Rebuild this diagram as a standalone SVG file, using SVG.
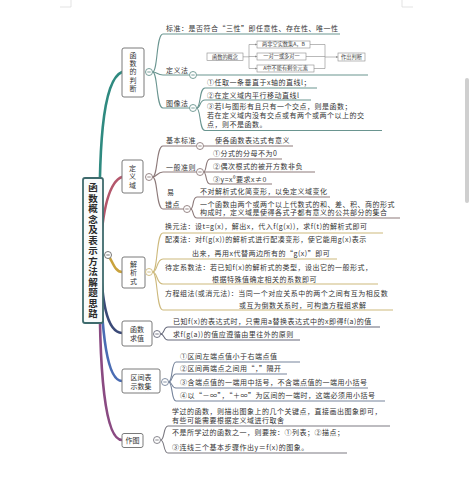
<svg xmlns="http://www.w3.org/2000/svg" width="474" height="503" viewBox="0 0 474 503">
<style>
.t{font-family:"Noto Sans CJK SC","Noto Sans",sans-serif;font-size:7px;letter-spacing:0.5px;fill:#333}
.n{font-family:"Noto Sans CJK SC",sans-serif;font-size:7px;fill:#333;text-anchor:middle}
.v{font-family:"Noto Sans CJK SC",sans-serif;font-size:7px;fill:#333;writing-mode:tb}
.r{font-family:"Noto Sans CJK SC",sans-serif;font-size:9.5px;letter-spacing:1px;font-weight:bold;fill:#2a2a2a;writing-mode:tb}
.f{font-family:"Noto Sans CJK SC",sans-serif;font-size:5.2px;fill:#444;text-anchor:middle}
.box{fill:#fff;stroke:#7a7a7a;stroke-width:1}
.fb{fill:#fff;stroke:#8a8a8a;stroke-width:0.6}
.c{fill:#fff;stroke-width:0.9}
.m{stroke-width:0.9}
.ln{fill:none;stroke-width:1.1}
.fl{fill:none;stroke:#8a8a8a;stroke-width:0.6}
.br{fill:none;stroke-width:2.6;stroke-linecap:round}
.s1{stroke:#6a9590}.s2{stroke:#8d7a7a}.s3{stroke:#cdb97c}.s4{stroke:#66697a}.s5{stroke:#76849b}.s6{stroke:#7c7a82}
</style>
<defs>
<marker id="ar" viewBox="0 0 6 6" refX="6" refY="3" markerWidth="4" markerHeight="4" orient="auto"><path d="M0 0L6 3L0 6Z" fill="#8a8a8a"/></marker>
</defs>
<rect width="474" height="503" fill="#fff"/>
<path d="M60 7H71V0M402 0V7H413" fill="none" stroke="#dcdcdc" stroke-width="0.8"/>
<rect x="465" y="78" width="4" height="125" rx="2" fill="#cfcfcf"/>

<g id="connectors">
<path class="br" stroke="#2f8a80" d="M100 255C98 150 102 80 122 72"/>
<path class="br" stroke="#b4576c" d="M100 255C102 215 108 182 122 177"/>
<path class="br" stroke="#c9a23c" d="M108 255C113 262 115 272 122 272"/>
<path class="br" stroke="#3b4a78" d="M100 255C102 300 106 332 122 333"/>
<path class="br" stroke="#4a6cb3" d="M100 255C101 340 108 381 122 381"/>
<path class="br" stroke="#8a4a82" d="M100 255C98 380 106 440 122 440"/>
<!-- group 1 -->
<path class="ln s1" d="M152.5 72C158 72 156 34 163 34H340"/>
<path class="ln s1" d="M152.5 72C157 72 157 75 163 75H189.5"/>
<path class="ln s1" d="M196.5 75H368"/>
<path class="ln s1" d="M152.5 72C158 72 156 108 163 108H189.5"/>
<path class="ln s1" d="M196.5 108C201 108 199 88 205 88H317"/>
<path class="ln s1" d="M196.5 108C201 108 199 100 205 100H311"/>
<path class="ln s1" d="M196.5 108C201 108 199 130.5 205 130.5H382"/>
<path class="fl" d="M243 56.8H249M249 44.5V68.5"/>
<path class="fl" marker-end="url(#ar)" d="M249 44.5H257"/>
<path class="fl" marker-end="url(#ar)" d="M249 56.5H257"/>
<path class="fl" marker-end="url(#ar)" d="M249 68.5H257"/>
<path class="fl" d="M310 44.5H325M306 56.5H325M314 68.5H325M325 44.5V68.5"/>
<path class="fl" marker-end="url(#ar)" d="M325 57H338"/>
<!-- group 2 -->
<path class="ln s2" d="M152.5 177C158 177 156 146 163 146H196.5"/>
<path class="ln s2" d="M203.5 146H293"/>
<path class="ln s2" d="M152.5 177C157 177 157 172 163 172H196.5"/>
<path class="ln s2" d="M203.5 172C207 172 205 159 210 159H282"/>
<path class="ln s2" d="M203.5 172H315"/>
<path class="ln s2" d="M203.5 172C207 172 205 184 210 184H272"/>
<path class="ln s2" d="M152.5 177C158 177 156 209 163 209H183.5"/>
<path class="ln s2" d="M190.5 209C194 209 192 197 197 197H330"/>
<path class="ln s2" d="M190.5 209C194 209 192 218 197 218H400"/>
<!-- group 3 -->
<path class="ln s3" d="M152.5 272C158 272 156 233 163 233H383"/>
<path class="ln s3" d="M152.5 272C158 272 156 259 163 259H337"/>
<path class="ln s3" d="M152.5 272C158 272 156 284 163 284H378"/>
<path class="ln s3" d="M152.5 272C158 272 156 310 163 310H393"/>
<!-- group 4 -->
<path class="ln s4" d="M160.5 334C165 334 163 327 168 327H380"/>
<path class="ln s4" d="M160.5 334C165 334 163 340 168 340H300"/>
<!-- group 5 -->
<path class="ln s5" d="M168.5 382C173 382 171 362 176 362H300"/>
<path class="ln s5" d="M168.5 382C173 382 171 374 176 374H287"/>
<path class="ln s5" d="M168.5 382C173 382 171 388 176 388H368"/>
<path class="ln s5" d="M168.5 382C173 382 171 401 176 401H385"/>
<!-- group 6 -->
<path class="ln s6" d="M160.5 440C165 440 163 426 168 426H390"/>
<path class="ln s6" d="M160.5 440C165 440 163 453 168 453H347"/>
</g>

<g id="root">
<rect x="83" y="178" width="20" height="145" rx="2" fill="#f8fbfb" stroke="#3f6b6d" stroke-width="1.8"/>
<text class="r" x="93" y="183">函数概念及表示方法解题思路</text>
<circle class="c" stroke="#666" cx="108" cy="255" r="3.5"/><path class="m" stroke="#666" d="M106.3 255H109.7"/>
</g>

<g id="n-judge">
<rect class="box" x="122" y="48" width="22" height="49" rx="2"/>
<text class="v" x="133" y="51.5" letter-spacing="1.3">函数的判断</text>
<circle class="c s1" cx="149" cy="72" r="3.5"/><path class="m s1" d="M147.3 72H150.7"/>
</g>
<g id="n-std"><text class="t" x="166" y="31">标准：是否符合“三性”即任意性、存在性、唯一性</text></g>
<g id="n-defm">
<text class="t" x="166" y="72.5">定义法</text>
<circle class="c s1" cx="193" cy="75" r="3.5"/><path class="m s1" d="M191.3 75H194.7"/>
</g>
<g id="n-flow">
<rect class="fb" x="207" y="53" width="36" height="7.5"/><text class="f" x="225" y="58.7">函数的概念</text>
<rect class="fb" x="257" y="41" width="53" height="7"/><text class="f" x="283.5" y="46.4">两非空实数集A，B</text>
<rect class="fb" x="257" y="53" width="49" height="7"/><text class="f" x="281.5" y="58.4">一对一或多对一</text>
<rect class="fb" x="257" y="65" width="57" height="7"/><text class="f" x="285.5" y="70.4">A中不能有剩余元素</text>
<rect class="fb" x="338" y="53" width="27" height="8"/><text class="f" x="351.5" y="58.9">作出判断</text>
</g>
<g id="n-img">
<text class="t" x="166" y="105.5">图像法</text>
<circle class="c s1" cx="193" cy="108" r="3.5"/><path class="m s1" d="M191.3 108H194.7"/>
</g>
<g id="n-img1"><text class="t" x="207" y="85">①任取一条垂直于x轴的直线l；</text></g>
<g id="n-img2"><text class="t" x="207" y="97.5">②在定义域内平行移动直线l</text></g>
<g id="n-img3"><text class="t" x="207" y="109">③若l与图形有且只有一个交点，则是函数；<tspan x="207" dy="9">若在定义域内没有交点或有两个或两个以上的交</tspan><tspan x="207" dy="9">点，则不是函数。</tspan></text></g>

<g id="n-domain">
<rect class="box" x="122" y="160" width="21" height="33" rx="2"/>
<text class="v" x="132.5" y="164.5" letter-spacing="1.7">定义域</text>
<circle class="c s2" cx="149" cy="177" r="3.5"/><path class="m s2" d="M147.3 177H150.7"/>
</g>
<g id="n-basic">
<text class="t" x="166" y="142.5">基本标准</text>
<circle class="c s2" cx="200" cy="146" r="3.5"/><path class="m s2" d="M198.3 146H201.7"/>
</g>
<g id="n-basic1"><text class="t" x="215" y="142.5">使各函数表达式有意义</text></g>
<g id="n-gen">
<text class="t" x="166" y="169.5">一般准则</text>
<circle class="c s2" cx="200" cy="172" r="3.5"/><path class="m s2" d="M198.3 172H201.7"/>
</g>
<g id="n-gen1"><text class="t" x="213" y="156">①分式的分母不为0</text></g>
<g id="n-gen2"><text class="t" x="213" y="169">②偶次根式的被开方数非负</text></g>
<g id="n-gen3"><text class="t" x="213" y="181.5">③y=x⁰要求x≠0</text></g>
<g id="n-err">
<text class="t" x="167" y="194.5">易<tspan x="165" dy="12.5">错点</tspan></text>
<circle class="c s2" cx="187" cy="209" r="3.5"/><path class="m s2" d="M185.3 209H188.7"/>
</g>
<g id="n-err1"><text class="t" x="200" y="194">不对解析式化简变形，以免定义域变化</text></g>
<g id="n-err2"><text class="t" x="200" y="206.5">一个函数由两个或两个以上代数式的和、差、积、商的形式<tspan x="200" dy="8.5">构成时，定义域是使得各式子都有意义的公共部分的集合</tspan></text></g>

<g id="n-expr">
<rect class="box" x="122" y="257" width="23" height="31" rx="2"/>
<text class="v" x="133.5" y="260.5" letter-spacing="1.5">解析式</text>
<circle class="c s3" cx="149" cy="272" r="3.5"/><path class="m s3" d="M147.3 272H150.7"/>
</g>
<g id="n-e1"><text class="t" x="165" y="229">换元法：设t=g(x)，解出x，代入f(g(x))，求f(t)的解析式即可</text></g>
<g id="n-e2"><text class="t" x="165" y="242">配凑法：对f(g(x))的解析式进行配凑变形，使它能用g(x)表示<tspan x="192" dy="14">出来，再用x代替两边所有的“g(x)”即可</tspan></text></g>
<g id="n-e3"><text class="t" x="165" y="269.5">待定系数法：若已知f(x)的解析式的类型，设出它的一般形式，<tspan x="212" dy="12">根据特殊值确定相关的系数即可</tspan></text></g>
<g id="n-e4"><text class="t" x="165" y="295.5">方程组法(或消元法)：当同一个对应关系中的两个之间有互为相反数<tspan x="239" dy="12">或互为倒数关系时，可构造方程组求解</tspan></text></g>

<g id="n-eval">
<rect class="box" x="122" y="321" width="30" height="25" rx="2"/>
<text class="n" x="137" y="331.5">函数<tspan x="137" dy="9.5">求值</tspan></text>
<circle class="c s4" cx="157" cy="334" r="3.5"/><path class="m s4" d="M155.3 334H158.7"/>
</g>
<g id="n-v1"><text class="t" x="173" y="324">已知f(x)的表达式时，只需用a替换表达式中的x即得f(a)的值</text></g>
<g id="n-v2"><text class="t" x="173" y="337">求f(g(a))的值应遵循由里往外的原则</text></g>

<g id="n-interval">
<rect class="box" x="122" y="369" width="38" height="24" rx="2"/>
<text class="n" x="141" y="379.5">区间表<tspan x="141" dy="9.8">示数集</tspan></text>
<circle class="c s5" cx="165" cy="382" r="3.5"/><path class="m s5" d="M163.3 382H166.7"/>
</g>
<g id="n-i1"><text class="t" x="180" y="359">①区间左端点值小于右端点值</text></g>
<g id="n-i2"><text class="t" x="180" y="371">②区间两端点之间用“，”隔开</text></g>
<g id="n-i3"><text class="t" x="180" y="385">③含端点值的一端用中括号，不含端点值的一端用小括号</text></g>
<g id="n-i4"><text class="t" x="180" y="398">④以“－∞”，“＋∞”为区间的一端时，这端必须用小括号</text></g>

<g id="n-draw">
<rect class="box" x="122" y="433.5" width="21" height="14" rx="2"/>
<text class="n" x="132.5" y="443.3">作图</text>
<circle class="c s6" cx="157" cy="440" r="3.5"/><path class="m s6" d="M155.3 440H158.7"/>
</g>
<g id="n-d1"><text class="t" x="172" y="413.5">学过的函数，则描出图象上的几个关键点，直接画出图象即可，<tspan x="172" dy="9">有些可能需要根据定义域进行取舍</tspan></text></g>
<g id="n-d2"><text class="t" x="172" y="435">不是所学过的函数之一，则要按：①列表；②描点；<tspan x="172" dy="14.5">③连线三个基本步骤作出y＝f(x)的图象。</tspan></text></g>
</svg>
